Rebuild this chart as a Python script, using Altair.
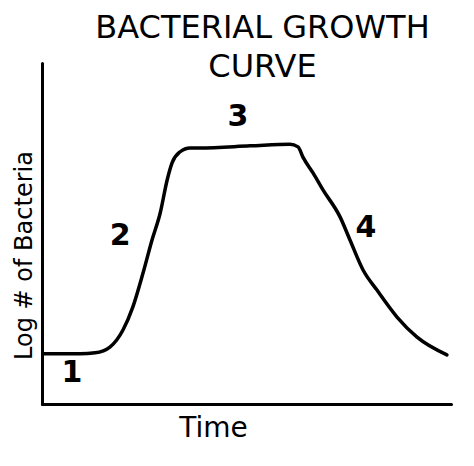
import altair as alt
import pandas as pd

# Curve (time units 0-10, log-count units 0-10)
time = [0.05, 0.44, 0.93, 1.30, 1.66, 1.98, 2.22, 2.47, 2.69, 2.89, 3.06, 3.18, 3.37, 3.62,
        3.86, 5.09, 6.06, 6.26, 6.38, 6.63, 6.87, 7.29, 7.53, 7.85, 8.19, 8.68, 9.17, 9.90]
log_count = [1.47, 1.47, 1.47, 1.50, 1.67, 2.17, 2.84, 3.84, 4.81, 5.60, 6.57, 7.07, 7.39, 7.51,
             7.51, 7.57, 7.62, 7.54, 7.24, 6.77, 6.28, 5.48, 4.81, 3.93, 3.34, 2.55, 1.96, 1.44]

# Phase labels
phase_labels = ["1", "2", "3", "4"]
phase_time = [0.73, 1.91, 4.79, 7.92]
phase_log = [0.91, 4.93, 8.42, 5.16]

curve_df = pd.DataFrame({"time": time, "log": log_count})
label_df = pd.DataFrame({"label": phase_labels, "time": phase_time, "log": phase_log})

FONT = "DejaVu Sans"

x_enc = alt.X("time:Q", scale=alt.Scale(domain=[0, 10], nice=False, zero=False),
              axis=alt.Axis(title="Time", ticks=False, labels=False, grid=False,
                            domainColor="black", domainWidth=3, domainCap="round",
                            titleFont=FONT, titleFontSize=28, titleFontWeight="normal",
                            titleColor="black", titleX=171, titlePadding=10))
y_enc = alt.Y("log:Q", scale=alt.Scale(domain=[0, 10], nice=False, zero=False),
              axis=alt.Axis(title="Log # of Bacteria", ticks=False, labels=False, grid=False,
                            domainColor="black", domainWidth=3, domainCap="round",
                            titleFont=FONT, titleFontSize=24, titleFontWeight="normal",
                            titleColor="black", titleY=192, titlePadding=6))

line = alt.Chart(curve_df).mark_line(color="black", strokeWidth=3.5, interpolate="monotone",
                                     strokeCap="round").encode(x=x_enc, y=y_enc)

labels = alt.Chart(label_df).mark_text(font=FONT, fontSize=30, fontWeight="bold",
                                       color="black").encode(
    x="time:Q", y="log:Q", text="label:N")

chart = (line + labels).properties(
    width=409, height=341,
    autosize=alt.AutoSizeParams(type="none"),
    padding={"left": 34, "top": 55, "right": 15, "bottom": 54},
    title=alt.TitleParams(text=["BACTERIAL GROWTH", "CURVE"], font=FONT, fontSize=32,
                          fontWeight="normal", color="black", anchor="middle",
                          lineHeight=39, dx=16, offset=-21),
).configure_view(stroke=None)

chart.save("out.html", embed_options={"renderer": "svg", "actions": False})
